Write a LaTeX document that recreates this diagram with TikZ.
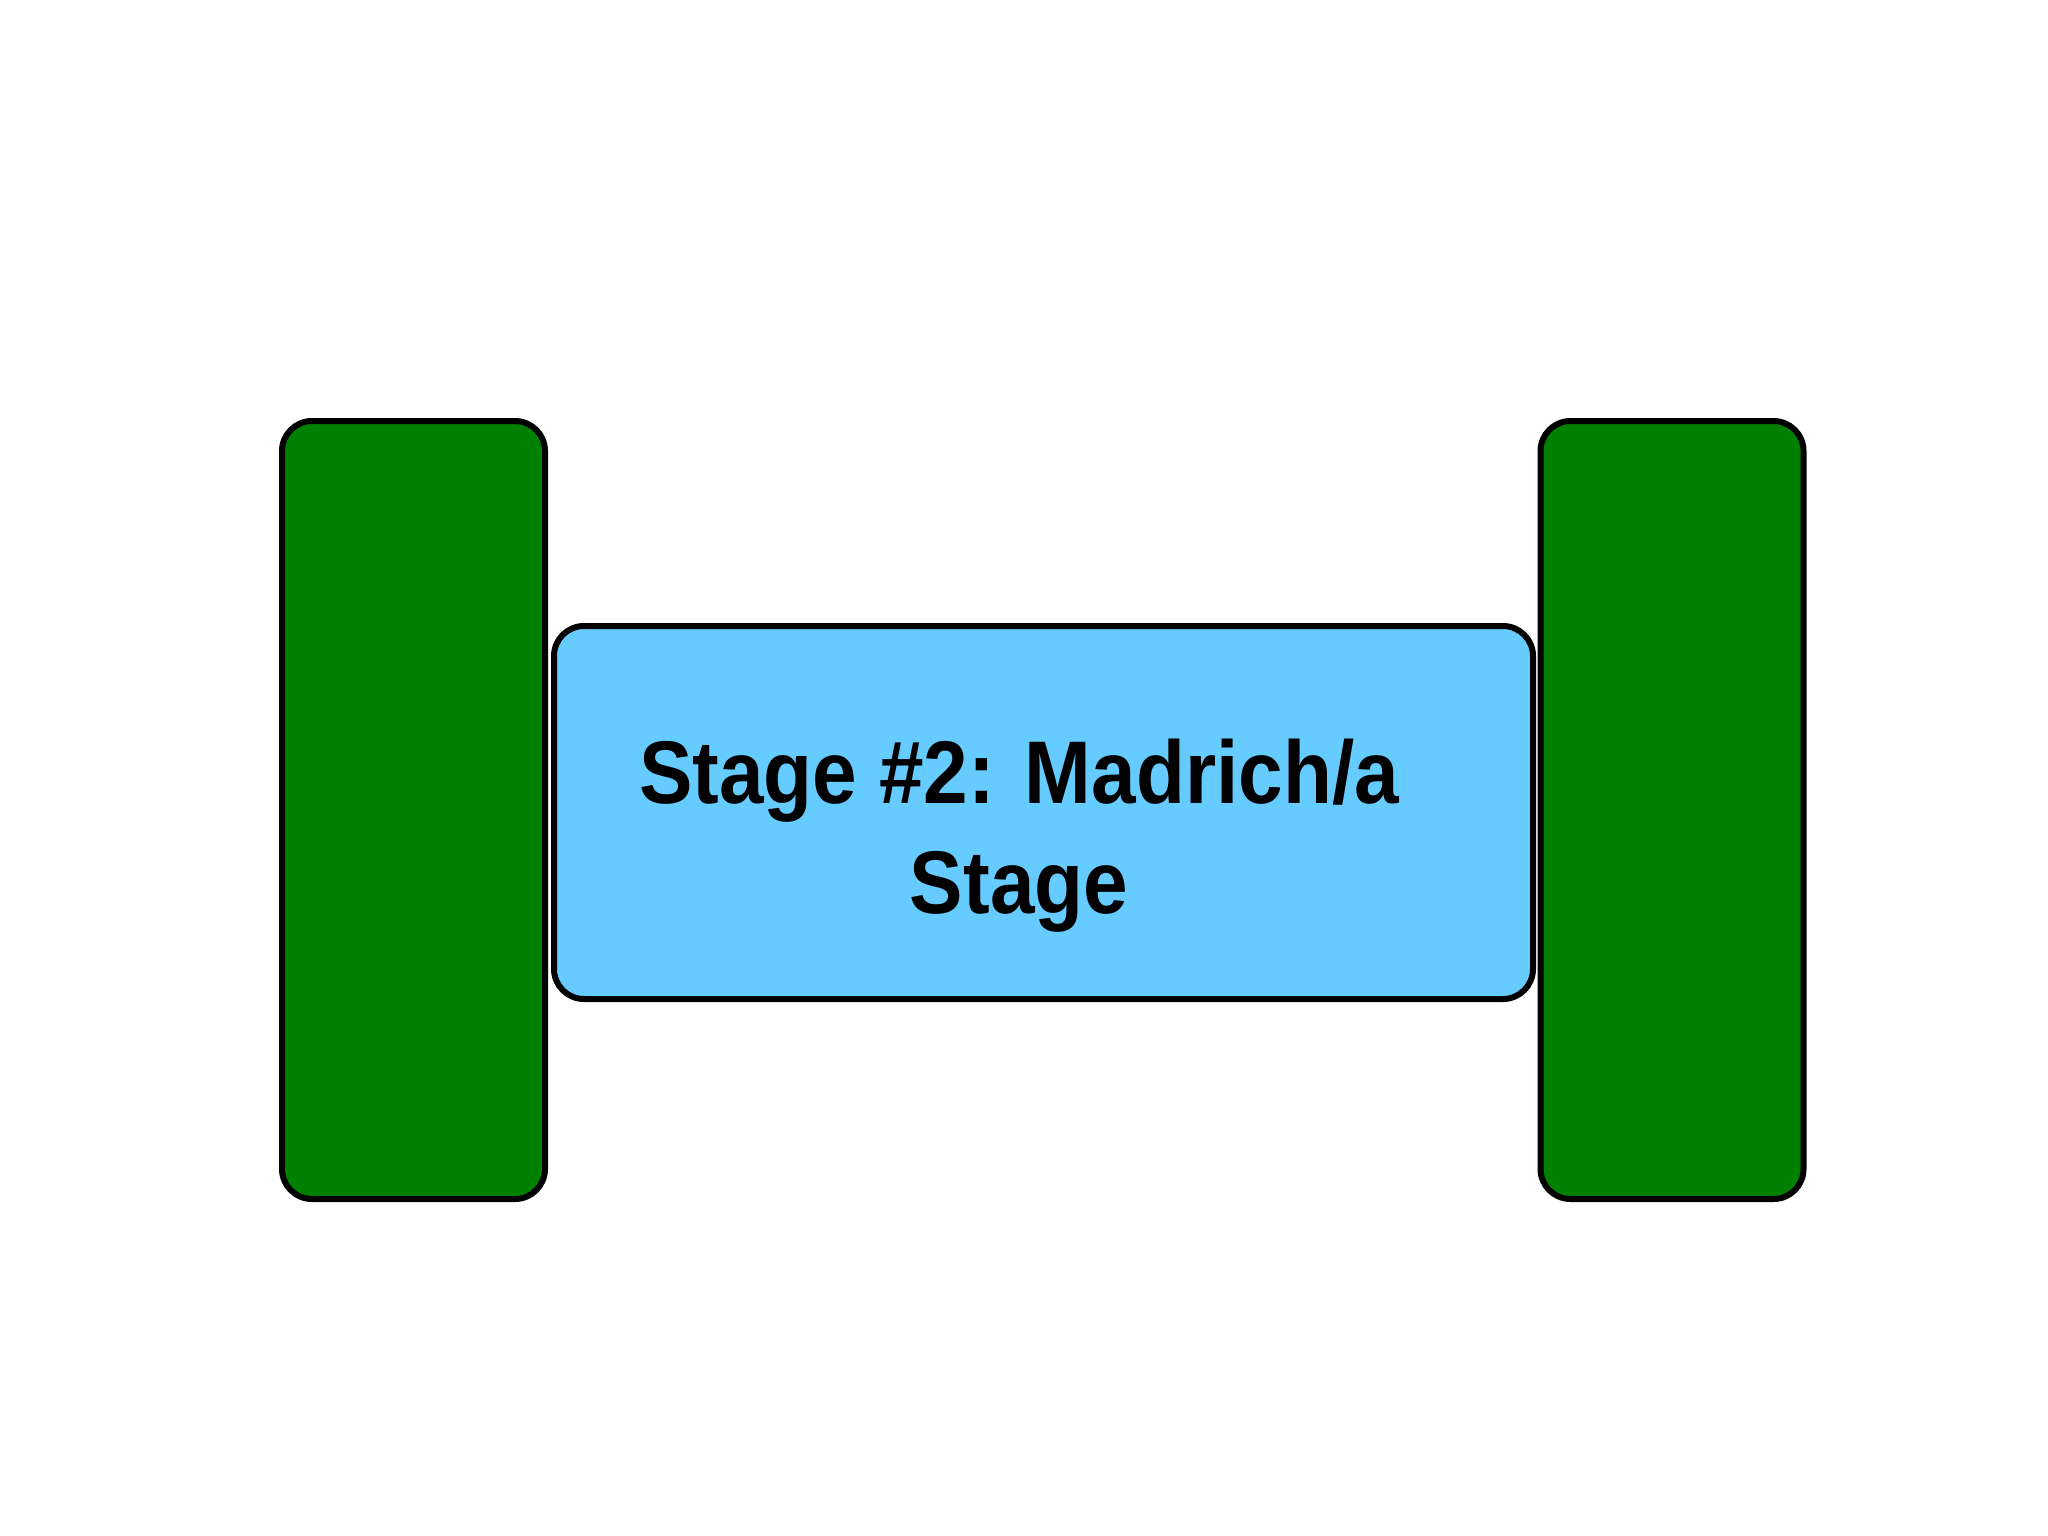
\documentclass[tikz,border=0pt]{standalone}
\usepackage{fontspec}
\newfontfamily\condsans[FakeStretch=0.9]{Liberation Sans}
\definecolor{pillar}{RGB}{0,128,0}
\definecolor{stagebl}{RGB}{102,204,255}
\begin{document}
\begin{tikzpicture}[x=0.5pt,y=-0.5pt,
  box/.style={draw=black,line width=3pt,rounded corners=15pt,rectangle,inner sep=0pt},
  pillarbox/.style={box,fill=pillar,minimum width=131.5pt,minimum height=389pt},
  stagebox/.style={box,fill=stagebl,minimum width=489.5pt,minimum height=186.5pt}]
\useasboundingbox[fill=white] (0,0) rectangle (2048,1535);
\node[pillarbox] (left) at (413.5,810) {};
\node[pillarbox] (right) at (1672,810) {};
\node[stagebox] (stage) at (1043.5,812.5) {};
\node[inner sep=0pt,align=center,font=\condsans\bfseries\fontsize{44.5pt}{55pt}\selectfont] (label) at (1019,836) {Stage \#2: Madrich/a\\Stage};
\end{tikzpicture}
\end{document}
